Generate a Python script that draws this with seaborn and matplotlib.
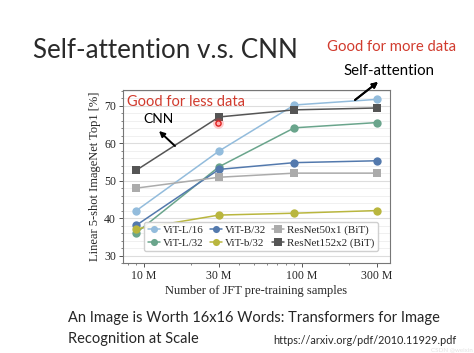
import matplotlib
matplotlib.use('Agg')
import matplotlib.pyplot as plt
import numpy as np
import pandas as pd
import seaborn as sns
from matplotlib.ticker import FixedLocator, NullFormatter, MultipleLocator

sns.set_style('white')

# data (JFT pre-training samples, in millions)
samples = [9, 30, 90, 300]
models = ['ViT-L/16', 'ViT-L/32', 'ViT-B/32', 'ViT-b/32', 'ResNet50x1 (BiT)', 'ResNet152x2 (BiT)']
vit_l16 = [42.0, 57.9, 70.2, 71.7]
vit_l32 = [36.1, 53.7, 64.1, 65.5]
vit_b32 = [38.1, 53.0, 54.8, 55.3]
vit_b32_small = [37.1, 40.8, 41.3, 42.0]
resnet50 = [48.0, 50.9, 52.0, 52.0]
resnet152 = [52.8, 67.0, 68.9, 69.4]
xticks = [10, 30, 100, 300]
xticklabels = ['10 M', '30 M', '100 M', '300 M']

series = [vit_l16, vit_l32, vit_b32, vit_b32_small, resnet50, resnet152]
rows = []
for name, vals in zip(models, series):
    for s, v in zip(samples, vals):
        rows.append({'samples': s, 'acc': v, 'model': name})
df = pd.DataFrame(rows)

palette = {'ViT-L/16': '#93bcdc', 'ViT-L/32': '#6aa58c', 'ViT-B/32': '#5379ad',
           'ViT-b/32': '#b9b63e', 'ResNet50x1 (BiT)': '#ababab', 'ResNet152x2 (BiT)': '#555555'}
markers = {'ViT-L/16': 'o', 'ViT-L/32': 'o', 'ViT-B/32': 'o', 'ViT-b/32': 'o',
           'ResNet50x1 (BiT)': 's', 'ResNet152x2 (BiT)': 's'}

W, H = 474, 353
fig = plt.figure(figsize=(W / 100, H / 100), dpi=100)
ax = fig.add_axes([123 / W, 1 - 263 / H, 267 / W, 173 / H])

sns.lineplot(data=df, x='samples', y='acc', hue='model', style='model', hue_order=models,
             style_order=models, palette=palette, markers=markers, dashes=False,
             markersize=6, markeredgewidth=0, linewidth=1.1, ax=ax)

ax.set_xscale('log')
ax.set_xlim(7.4, 363)
ax.set_ylim(28, 74.2)
ax.xaxis.set_major_locator(FixedLocator(xticks))
ax.set_xticklabels(xticklabels)
ax.xaxis.set_minor_formatter(NullFormatter())
ax.yaxis.set_major_locator(MultipleLocator(10))
ax.yaxis.set_minor_locator(MultipleLocator(2))
ax.grid(True, axis='y', which='major', color='#dddddd', lw=0.8)
ax.grid(True, axis='y', which='minor', color='#eeeeee', lw=0.6)
ax.set_axisbelow(True)
ax.tick_params(axis='both', which='major', direction='out', length=3, width=0.7, color='#555555',
               labelsize=8.5, pad=2, bottom=True, left=True)
ax.tick_params(axis='both', which='minor', direction='out', length=1.5, width=0.5, color='#555555',
               bottom=True, left=True)
for lab in ax.get_xticklabels() + ax.get_yticklabels():
    lab.set_family('Liberation Serif')
for sp in ax.spines.values():
    sp.set_color('#777777')
    sp.set_linewidth(0.8)

ax.set_xlabel('Number of JFT pre-training samples', family='Liberation Serif', fontsize=9, labelpad=2)
ax.set_ylabel('Linear 5-shot ImageNet Top1 [%]', family='Liberation Serif', fontsize=9, labelpad=2)

handles, labels = ax.get_legend_handles_labels()
leg = ax.legend(handles, labels, ncol=3, loc='lower right', bbox_to_anchor=(0.975, 0.035),
                prop={'family': 'Liberation Serif', 'size': 7.9}, handlelength=1.1,
                handletextpad=0.25, columnspacing=0.6, borderpad=0.3, labelspacing=0.25,
                frameon=True, framealpha=0.92, edgecolor='#cccccc', fancybox=True,
                markerscale=0.85)

# laser pointer dot
ax.scatter([29.6], [65.4], s=60, color='#ff3030', alpha=0.25, lw=0, zorder=5)
ax.scatter([29.6], [65.4], s=14, facecolor='#ffb0b0', edgecolor='#e02020', lw=1.0, zorder=6)

sans = ['Lato', 'DejaVu Sans']
red = '#d13b2e'


def fx(x):
    return x / W


def fy(y):
    return 1 - y / H


fig.text(fx(33), fy(50), 'Self-attention v.s. CNN', family=sans, fontsize=18.7,
         va='center', ha='left', color='#2a2a2a')
fig.text(fx(327), fy(47), 'Good for more data', family=sans, fontsize=10.7, color=red, va='center')
fig.text(fx(343), fy(71), 'Self-attention', family=sans, fontsize=10.8, color='black', va='center')
fig.text(fx(127), fy(102), 'Good for less data', family=sans, fontsize=10.5, color=red, va='center')
fig.text(fx(143), fy(119), 'CNN', family=sans, fontsize=10, color='black', va='center')

fig.add_artist(plt.annotate('', xy=(fx(378), fy(82)), xytext=(fx(355), fy(100)),
                            xycoords='figure fraction', textcoords='figure fraction',
                            arrowprops=dict(arrowstyle='-|>', color='black', lw=1.4,
                                            mutation_scale=8, shrinkA=0, shrinkB=0)))
ax.annotate('', xy=(fx(159), fy(131)), xytext=(fx(175), fy(146)),
            xycoords='figure fraction', textcoords='figure fraction',
            arrowprops=dict(arrowstyle='-|>', color='black', lw=1.4, mutation_scale=8,
                            shrinkA=0, shrinkB=0))

fig.text(fx(68), fy(318), 'An Image is Worth 16x16 Words: Transformers for Image', family=sans,
         fontsize=10.5, va='center')
fig.text(fx(68), fy(339), 'Recognition at Scale', family=sans, fontsize=10.5, va='center')
fig.text(fx(273), fy(340), 'https://arxiv.org/pdf/2010.11929.pdf', family=sans, fontsize=7.8, va='center')
fig.text(fx(473), fy(350), 'CSDN @weixin', family=sans, fontsize=4.5, color='#e2e2e2',
         va='center', ha='right')

fig.savefig('out.png', dpi=100)
